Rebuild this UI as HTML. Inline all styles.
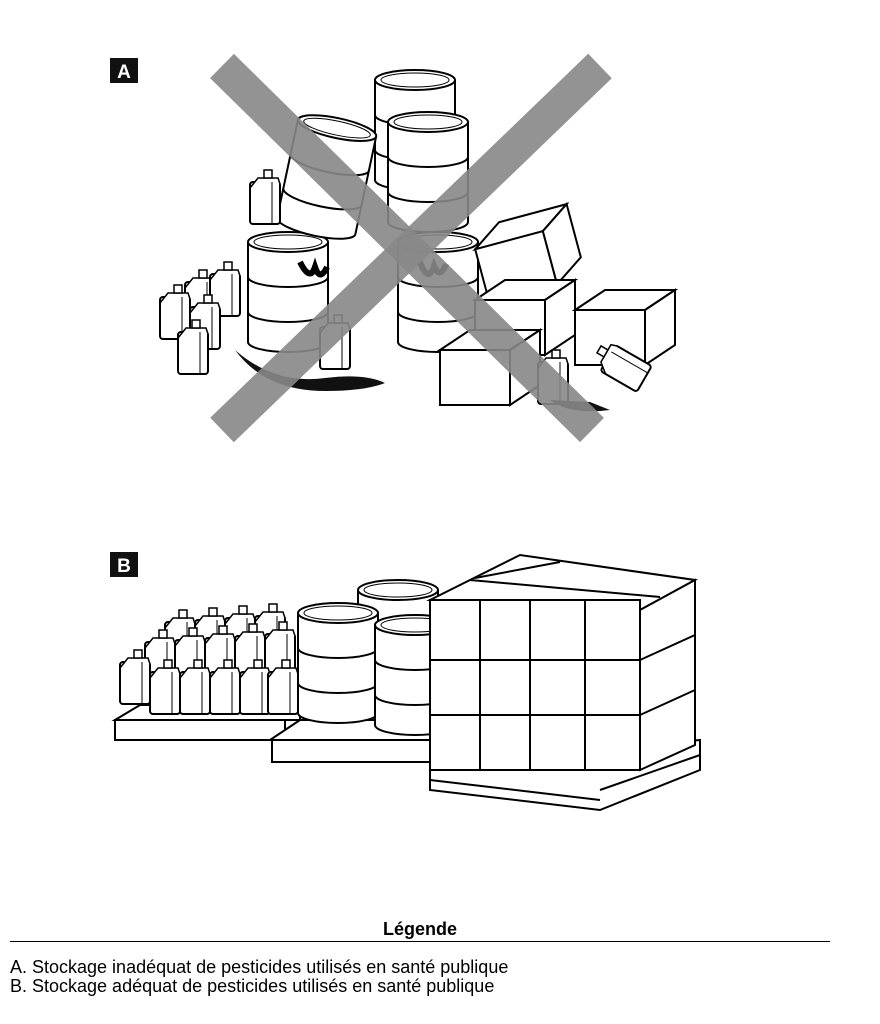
<!DOCTYPE html>
<html><head><meta charset="utf-8"><style>
html,body{margin:0;padding:0;background:#fff;}
body{width:880px;height:1024px;position:relative;overflow:hidden;font-family:"Liberation Sans",sans-serif;}
.t{position:absolute;font-size:18px;color:#000;line-height:20px;}
</style></head><body>
<svg width="880" height="920" style="position:absolute;left:0;top:0" xmlns="http://www.w3.org/2000/svg">
<defs>
<g id="barrel">
<path d="M0,10 L0,110 A40,10 0 0 0 80,110 L80,10" fill="#fff" stroke="#000" stroke-width="2"/>
<ellipse cx="40" cy="10" rx="40" ry="10" fill="#fff" stroke="#000" stroke-width="2"/>
<ellipse cx="40" cy="10" rx="34" ry="7" fill="none" stroke="#000" stroke-width="1"/>
<path d="M0,45 A40,10 0 0 0 80,45 M0,80 A40,10 0 0 0 80,80" fill="none" stroke="#000" stroke-width="2"/>
</g>
<g id="jug">
<rect x="0" y="12" width="30" height="42" rx="3" fill="#fff" stroke="#000" stroke-width="2"/>
<path d="M0,18 L8,8 L28,8 L30,14" fill="#fff" stroke="#000" stroke-width="1.5"/>
<rect x="14" y="0" width="8" height="8" fill="#fff" stroke="#000" stroke-width="1.5"/>
<line x1="22" y1="12" x2="22" y2="54" stroke="#000" stroke-width="1"/>
</g>
<g id="box">
<path d="M0,20 L30,0 L100,0 L70,20 Z" fill="#fff" stroke="#000" stroke-width="2"/>
<path d="M70,20 L100,0 L100,55 L70,75 Z" fill="#fff" stroke="#000" stroke-width="2"/>
<rect x="0" y="20" width="70" height="55" fill="#fff" stroke="#000" stroke-width="2"/>
</g>
</defs>
<rect x="110" y="58" width="28" height="25" fill="#111"/>
<text x="124" y="78" font-family="Liberation Sans" font-weight="bold" font-size="19" fill="#fff" text-anchor="middle">A</text>
<use href="#barrel" x="375" y="70"/>
<use href="#barrel" x="248" y="232"/>
<use href="#barrel" x="398" y="232"/>
<g transform="translate(300,110) rotate(12)"><use href="#barrel" x="0" y="0"/></g>
<use href="#barrel" x="388" y="112"/>
<path d="M300,262 q10,20 15,5 q5,15 12,0 M420,262 q8,22 14,4 q6,14 12,-2" stroke="#000" stroke-width="6" fill="none"/>
<path d="M235,350 q40,35 90,28 q40,-5 60,5 q-20,8 -60,8 q-60,0 -90,-41Z" fill="#111"/>
<use href="#jug" x="250" y="170"/><use href="#jug" x="185" y="270"/><use href="#jug" x="210" y="262"/>
<use href="#jug" x="160" y="285"/><use href="#jug" x="190" y="295"/><use href="#jug" x="178" y="320"/>
<use href="#jug" x="320" y="315"/>
<g transform="translate(470,230) rotate(-15)"><use href="#box"/></g>
<use href="#box" x="475" y="280"/>
<use href="#box" x="440" y="330"/>
<use href="#box" x="575" y="290"/>
<use href="#jug" x="538" y="350"/>
<g transform="translate(590,365) rotate(-60)"><use href="#jug"/></g>
<path d="M550,400 q20,15 60,10 l-20,-8z" fill="#111"/>
<line x1="222" y1="66" x2="592" y2="430" stroke="#888" stroke-width="34" opacity="0.9"/>
<line x1="600" y1="66" x2="222" y2="430" stroke="#888" stroke-width="34" opacity="0.9"/>
<rect x="110" y="552" width="28" height="25" fill="#111"/>
<text x="124" y="572" font-family="Liberation Sans" font-weight="bold" font-size="19" fill="#fff" text-anchor="middle">B</text>
<g fill="#fff" stroke="#000" stroke-width="2">
<path d="M115,720 L140,705 L300,705 L300,720 Z"/>
<rect x="115" y="720" width="170" height="20"/>
<path d="M270,740 L300,720 L445,720 L445,740 Z"/>
<rect x="272" y="740" width="165" height="22"/>
<path d="M430,765 L700,740 L700,770 L600,810 L430,790 Z"/>
<line x1="430" y1="780" x2="600" y2="800"/>
<line x1="600" y1="790" x2="700" y2="755"/>
</g>
<use href="#jug" x="165" y="610"/><use href="#jug" x="195" y="608"/><use href="#jug" x="225" y="606"/><use href="#jug" x="255" y="604"/>
<use href="#jug" x="145" y="630"/><use href="#jug" x="175" y="628"/><use href="#jug" x="205" y="626"/><use href="#jug" x="235" y="624"/><use href="#jug" x="265" y="622"/>
<use href="#jug" x="120" y="650"/><use href="#jug" x="150" y="660"/><use href="#jug" x="180" y="660"/><use href="#jug" x="210" y="660"/><use href="#jug" x="240" y="660"/><use href="#jug" x="268" y="660"/>
<use href="#barrel" x="358" y="580"/>
<use href="#barrel" x="298" y="603"/>
<use href="#barrel" x="375" y="615"/>
<g fill="#fff" stroke="#000" stroke-width="2">
<path d="M430,600 L520,555 L695,580 L640,610 Z"/>
<path d="M640,610 L695,580 L695,745 L640,770 Z"/>
<rect x="430" y="600" width="210" height="170"/>
<line x1="430" y1="660" x2="640" y2="660"/><line x1="430" y1="715" x2="640" y2="715"/>
<line x1="480" y1="600" x2="480" y2="770"/><line x1="530" y1="600" x2="530" y2="770"/><line x1="585" y1="600" x2="585" y2="770"/>
<line x1="640" y1="660" x2="695" y2="635"/><line x1="640" y1="715" x2="695" y2="690"/>
<line x1="470" y1="580" x2="660" y2="597"/><line x1="475" y1="578" x2="560" y2="562"/>
</g>
</svg>
<div class="t" style="left:0;width:840px;top:919px;text-align:center;font-weight:bold;">Légende</div>
<div style="position:absolute;left:10px;top:941px;width:820px;height:1px;background:#000"></div>
<div class="t" style="left:10px;top:957px;">A. Stockage inadéquat de pesticides utilisés en santé publique</div>
<div class="t" style="left:10px;top:976px;">B. Stockage adéquat de pesticides utilisés en santé publique</div>
</body></html>
